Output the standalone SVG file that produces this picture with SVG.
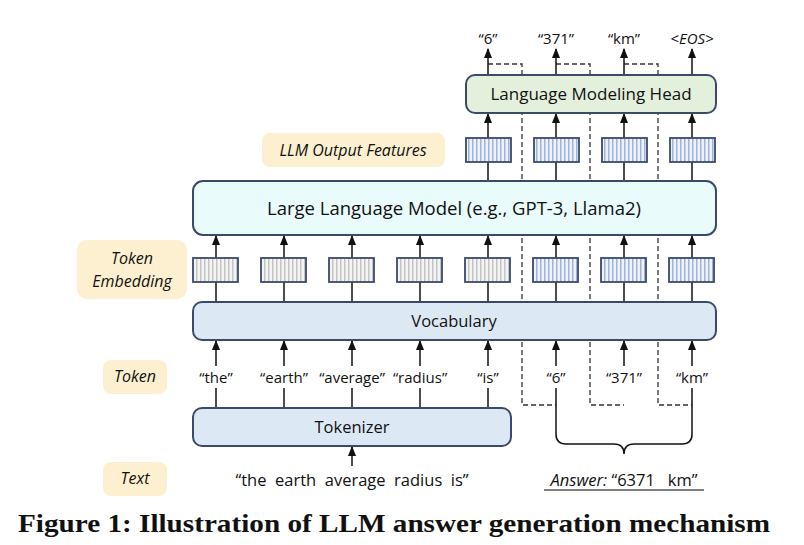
<svg xmlns="http://www.w3.org/2000/svg" width="804" height="545" viewBox="0 0 804 545">
<style>
.t{font-family:"Open Sans","Liberation Sans",sans-serif;fill:#111}
.lab{font-family:"Open Sans","Liberation Sans",sans-serif;font-style:italic;font-size:16px;fill:#111;text-anchor:middle}
.tag{fill:#fdf0d0}
.box{stroke:#3b4a6b;stroke-width:2}
.ln{stroke:#111;stroke-width:1.5;fill:none}
.ds{stroke:#333;stroke-width:1.3;fill:none;stroke-dasharray:5,3}
.eg{fill:url(#pg);stroke:#3b4a6b;stroke-width:1.8}
.eb{fill:url(#pb);stroke:#3b4a6b;stroke-width:1.8}
</style>
<defs>
<pattern id="pg" width="4" height="4" patternUnits="userSpaceOnUse"><rect width="4" height="4" fill="#f4f4f4"/><rect width="1.5" height="4" fill="#c4c4c4"/></pattern>
<pattern id="pb" width="4" height="4" patternUnits="userSpaceOnUse"><rect width="4" height="4" fill="#eef2fb"/><rect width="1.5" height="4" fill="#9fb3dc"/></pattern>
<marker id="a" viewBox="0 0 10 10" refX="9" refY="5" markerWidth="7" markerHeight="7" orient="auto"><path d="M0,1 L10,5 L0,9 z" fill="#111"/></marker>
</defs>
<rect width="804" height="545" fill="#fff"/>
<g id="connectors">
<path class="ds" d="M488,64 H522 V405 H556"/>
<path class="ds" d="M556,64 H590 V405 H624"/>
<path class="ds" d="M624,64 H658 V405 H692"/>
<line class="ln" x1="488" y1="75" x2="488" y2="49" marker-end="url(#a)"/>
<line class="ln" x1="556" y1="75" x2="556" y2="49" marker-end="url(#a)"/>
<line class="ln" x1="624" y1="75" x2="624" y2="49" marker-end="url(#a)"/>
<line class="ln" x1="692" y1="75" x2="692" y2="49" marker-end="url(#a)"/>
<line class="ln" x1="488" y1="181" x2="488" y2="114" marker-end="url(#a)"/>
<line class="ln" x1="556" y1="181" x2="556" y2="114" marker-end="url(#a)"/>
<line class="ln" x1="624" y1="181" x2="624" y2="114" marker-end="url(#a)"/>
<line class="ln" x1="692" y1="181" x2="692" y2="114" marker-end="url(#a)"/>
<line class="ln" x1="216" y1="302" x2="216" y2="236" marker-end="url(#a)"/>
<line class="ln" x1="284" y1="302" x2="284" y2="236" marker-end="url(#a)"/>
<line class="ln" x1="352" y1="302" x2="352" y2="236" marker-end="url(#a)"/>
<line class="ln" x1="420" y1="302" x2="420" y2="236" marker-end="url(#a)"/>
<line class="ln" x1="488" y1="302" x2="488" y2="236" marker-end="url(#a)"/>
<line class="ln" x1="556" y1="302" x2="556" y2="236" marker-end="url(#a)"/>
<line class="ln" x1="624" y1="302" x2="624" y2="236" marker-end="url(#a)"/>
<line class="ln" x1="692" y1="302" x2="692" y2="236" marker-end="url(#a)"/>
<line class="ln" x1="216" y1="366" x2="216" y2="341" marker-end="url(#a)"/>
<line class="ln" x1="284" y1="366" x2="284" y2="341" marker-end="url(#a)"/>
<line class="ln" x1="352" y1="366" x2="352" y2="341" marker-end="url(#a)"/>
<line class="ln" x1="420" y1="366" x2="420" y2="341" marker-end="url(#a)"/>
<line class="ln" x1="488" y1="366" x2="488" y2="341" marker-end="url(#a)"/>
<line class="ln" x1="556" y1="366" x2="556" y2="341" marker-end="url(#a)"/>
<line class="ln" x1="624" y1="366" x2="624" y2="341" marker-end="url(#a)"/>
<line class="ln" x1="692" y1="366" x2="692" y2="341" marker-end="url(#a)"/>
<line class="ln" x1="216" y1="408" x2="216" y2="388"/>
<line class="ln" x1="284" y1="408" x2="284" y2="388"/>
<line class="ln" x1="352" y1="408" x2="352" y2="388"/>
<line class="ln" x1="420" y1="408" x2="420" y2="388"/>
<line class="ln" x1="488" y1="408" x2="488" y2="388"/>
<line class="ln" x1="352" y1="466" x2="352" y2="447" marker-end="url(#a)"/>
<path class="ln" d="M556,388 V434 Q556,444 566,444 H614 Q624,444 624,454 Q624,444 634,444 H682 Q692,444 692,434 V388"/>
</g>
<g id="head"><rect class="box" x="466" y="75" width="250" height="38" rx="9" fill="#e3f0dc"/><text class="t" x="591" y="100" font-size="17" text-anchor="middle">Language Modeling Head</text></g>
<g id="features">
<rect class="eb" x="466" y="138" width="45" height="24"/><rect class="eb" x="534" y="138" width="45" height="24"/><rect class="eb" x="602" y="138" width="45" height="24"/><rect class="eb" x="670" y="138" width="45" height="24"/>
</g>
<g id="llm"><rect class="box" x="193" y="181" width="523" height="54" rx="10" fill="#eafbfb"/><text class="t" x="454" y="215" font-size="18.5" text-anchor="middle">Large Language Model (e.g., GPT-3, Llama2)</text></g>
<g id="embeddings">
<rect class="eg" x="193" y="258" width="45" height="24"/><rect class="eg" x="261" y="258" width="45" height="24"/><rect class="eg" x="329" y="258" width="45" height="24"/><rect class="eg" x="397" y="258" width="45" height="24"/><rect class="eg" x="465" y="258" width="45" height="24"/>
<rect class="eb" x="533" y="258" width="45" height="24"/><rect class="eb" x="601" y="258" width="45" height="24"/><rect class="eb" x="669" y="258" width="45" height="24"/>
</g>
<g id="vocab"><rect class="box" x="193" y="302" width="523" height="38" rx="9" fill="#dde8f5"/><text class="t" x="454" y="327" font-size="16.5" text-anchor="middle">Vocabulary</text></g>
<g id="tokens" class="t" font-size="15" text-anchor="middle">
<rect x="180" y="366" width="72" height="22" fill="#fff"/><rect x="248" y="366" width="72" height="22" fill="#fff"/><rect x="318" y="366" width="70" height="22" fill="#fff"/><rect x="388" y="366" width="64" height="22" fill="#fff"/><rect x="466" y="366" width="44" height="22" fill="#fff"/><rect x="536" y="366" width="40" height="22" fill="#fff"/><rect x="600" y="366" width="48" height="22" fill="#fff"/><rect x="668" y="366" width="48" height="22" fill="#fff"/>
<text x="216" y="383">“the”</text><text x="284" y="383">“earth”</text><text x="352" y="383">“average”</text><text x="420" y="383">“radius”</text><text x="488" y="383">“is”</text><text x="556" y="383">“6”</text><text x="624" y="383">“371”</text><text x="692" y="383">“km”</text>
</g>
<g id="outputs" class="t" font-size="15" text-anchor="middle">
<text x="488" y="44">“6”</text><text x="556" y="44">“371”</text><text x="624" y="44">“km”</text><text x="692" y="44" font-style="italic">&lt;EOS&gt;</text>
</g>
<g id="tokenizer"><rect class="box" x="193" y="408" width="318" height="38" rx="9" fill="#dde8f5"/><text class="t" x="352" y="433" font-size="16.5" text-anchor="middle">Tokenizer</text></g>
<g id="text"><text class="t" x="352" y="486" font-size="16.5" text-anchor="middle" xml:space="preserve">“the  earth  average  radius  is”</text></g>
<g id="answer"><text class="t" x="624" y="486" font-size="16.5" text-anchor="middle" xml:space="preserve"><tspan font-style="italic">Answer:</tspan> “6371   km”</text><line x1="544" y1="490" x2="704" y2="490" stroke="#555" stroke-width="1.3"/></g>
<g id="labels">
<rect class="tag" x="262" y="133" width="183" height="34" rx="8"/><text class="lab" x="353" y="156">LLM Output Features</text>
<rect class="tag" x="77" y="240" width="110" height="59" rx="10"/><text class="lab" x="132" y="264">Token</text><text class="lab" x="132" y="287">Embedding</text>
<rect class="tag" x="103" y="360" width="64" height="34" rx="8"/><text class="lab" x="135" y="382">Token</text>
<rect class="tag" x="103" y="462" width="64" height="34" rx="8"/><text class="lab" x="135" y="484">Text</text>
</g>
<g id="caption"><text x="18" y="532" font-family="Liberation Serif,serif" font-weight="bold" font-size="26" fill="#111" textLength="752" lengthAdjust="spacingAndGlyphs">Figure 1: Illustration of LLM answer generation mechanism</text></g>
</svg>
